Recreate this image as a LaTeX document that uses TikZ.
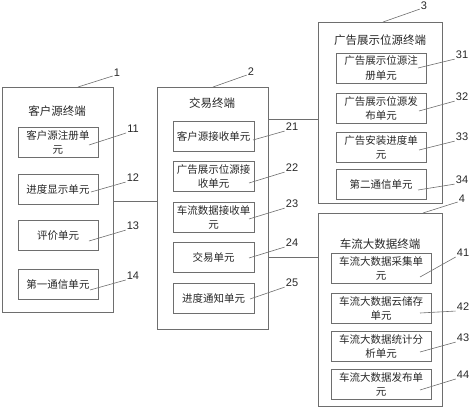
\documentclass[tikz,border=0pt]{standalone}
\usepackage{fontspec}
\setmainfont{Liberation Sans}
\newfontfamily\cjk{Noto Sans CJK SC}
\definecolor{lc}{RGB}{110,110,110}
\definecolor{tc}{RGB}{40,40,40}
\begin{document}
\begin{tikzpicture}[x=1pt,y=-1pt,
  box/.style={draw=lc, line width=0.9pt, rectangle, inner sep=0pt},
  unit/.style={draw=lc, line width=0.9pt, rectangle, inner sep=0pt, minimum height=30pt, align=center, font=\cjk\fontsize{10.5}{14}\selectfont, text=tc},
  title/.style={font=\cjk\fontsize{11.5}{14}\selectfont, text=tc, inner sep=0pt},
  num/.style={font=\fontsize{11}{13}\selectfont, text=tc, inner sep=0pt},
  lead/.style={draw=lc, line width=0.6pt},
  conn/.style={draw=lc, line width=0.9pt}]
\useasboundingbox (0,0) rectangle (474,408);
% outer boxes
\node[box, minimum width=111pt, minimum height=225pt] (b1) at (57.5,199.5) {};
\node[box, minimum width=111pt, minimum height=242pt] (b2) at (212.5,208) {};
\node[box, minimum width=124pt, minimum height=181pt] (b3) at (380,112.5) {};
\node[box, minimum width=124pt, minimum height=193pt] (b4) at (380,309.5) {};
% titles
\node[title] (t1) at (57,111) {客户源终端};
\node[title] (t2) at (212,103) {交易终端};
\node[title] (t3) at (380,40) {广告展示位源终端};
\node[title] (t4) at (380,244) {车流大数据终端};
% units of 1
\node[unit, minimum width=80pt] (u11) at (58,142.5) {客户源注册单\\元};
\node[unit, minimum width=80pt] (u12) at (58,189.5) {进度显示单元};
\node[unit, minimum width=80pt] (u13) at (58,235.5) {评价单元};
\node[unit, minimum width=80pt] (u14) at (58,284.5) {第一通信单元};
% units of 2
\node[unit, minimum width=81pt] (u21) at (213.5,136) {客户源接收单元};
\node[unit, minimum width=81pt] (u22) at (213.5,176) {广告展示位源接\\收单元};
\node[unit, minimum width=81pt] (u23) at (213.5,217.5) {车流数据接收单\\元};
\node[unit, minimum width=81pt] (u24) at (213.5,257.5) {交易单元};
\node[unit, minimum width=81pt] (u25) at (213.5,298) {进度通知单元};
% units of 3
\node[unit, minimum width=90pt] (u31) at (381,68) {广告展示位源注\\册单元};
\node[unit, minimum width=90pt] (u32) at (381,108) {广告展示位源发\\布单元};
\node[unit, minimum width=90pt] (u33) at (381,147) {广告安装进度单\\元};
\node[unit, minimum width=90pt] (u34) at (381,184) {第二通信单元};
% units of 4
\node[unit, minimum width=100pt] (u41) at (381,268.5) {车流大数据采集单\\元};
\node[unit, minimum width=100pt] (u42) at (381,308) {车流大数据云储存\\单元};
\node[unit, minimum width=100pt] (u43) at (381,346.5) {车流大数据统计分\\析单元};
\node[unit, minimum width=100pt] (u44) at (381,384.5) {车流大数据发布单\\元};
% connectors between terminals
\coordinate (c12) at (113,201);
\coordinate (c23) at (268,119);
\coordinate (c24) at (268,257);
\draw[conn] (c12 -| b1.east) -- (c12 -| b2.west);
\draw[conn] (c23 -| b2.east) -- (c23 -| b3.west);
\draw[conn] (c24 -| b2.east) -- (c24 -| b4.west);
% number labels
\node[num] (n1) at (117,73) {1};
\node[num] (n2) at (251,72) {2};
\node[num] (n3) at (424,6) {3};
\node[num] (n4) at (462,199) {4};
\node[num] (n11) at (133,129) {11};
\node[num] (n12) at (133,178) {12};
\node[num] (n13) at (133,226) {13};
\node[num] (n14) at (133,276) {14};
\node[num] (n21) at (292,127) {21};
\node[num] (n22) at (292,168) {22};
\node[num] (n23) at (292,204) {23};
\node[num] (n24) at (292,243) {24};
\node[num] (n25) at (292,283) {25};
\node[num] (n31) at (462,55) {31};
\node[num] (n32) at (462,97) {32};
\node[num] (n33) at (462,137) {33};
\node[num] (n34) at (462,180) {34};
\node[num] (n41) at (463,253) {41};
\node[num] (n42) at (463,307) {42};
\node[num] (n43) at (463,338) {43};
\node[num] (n44) at (463,375) {44};
% leader start points
\coordinate (l1) at (78,87);
\coordinate (l2) at (213,87);
\coordinate (l3) at (383,22);
\coordinate (l4) at (423,213);
\coordinate (l11) at (89,145);
\coordinate (l12) at (91,192);
\coordinate (l13) at (89,241);
\coordinate (l14) at (90,290);
\coordinate (l21) at (253,140);
\coordinate (l22) at (249,183);
\coordinate (l23) at (249,219);
\coordinate (l24) at (249,258);
\coordinate (l25) at (250,299);
\coordinate (l31) at (418,68);
\coordinate (l32) at (419,111);
\coordinate (l33) at (419,150);
\coordinate (l34) at (418,190);
\coordinate (l41) at (420,277);
\coordinate (l42) at (420,313);
\coordinate (l43) at (420,352);
\coordinate (l44) at (420,390);
% leader lines
\draw[lead] (l1) -- ([xshift=-1pt,yshift=1pt]n1.south west);
\draw[lead] (l2) -- ([xshift=-1pt,yshift=1pt]n2.south west);
\draw[lead] (l3) -- ([xshift=-1pt,yshift=1pt]n3.south west);
\draw[lead] (l4) -- ([xshift=-1pt,yshift=1pt]n4.south west);
\foreach \k in {11,12,13,14,21,22,23,24,25,31,32,33,34,41,42,43,44}
  \draw[lead] (l\k) -- ([xshift=-1pt]n\k.south west);
\end{tikzpicture}
\end{document}
